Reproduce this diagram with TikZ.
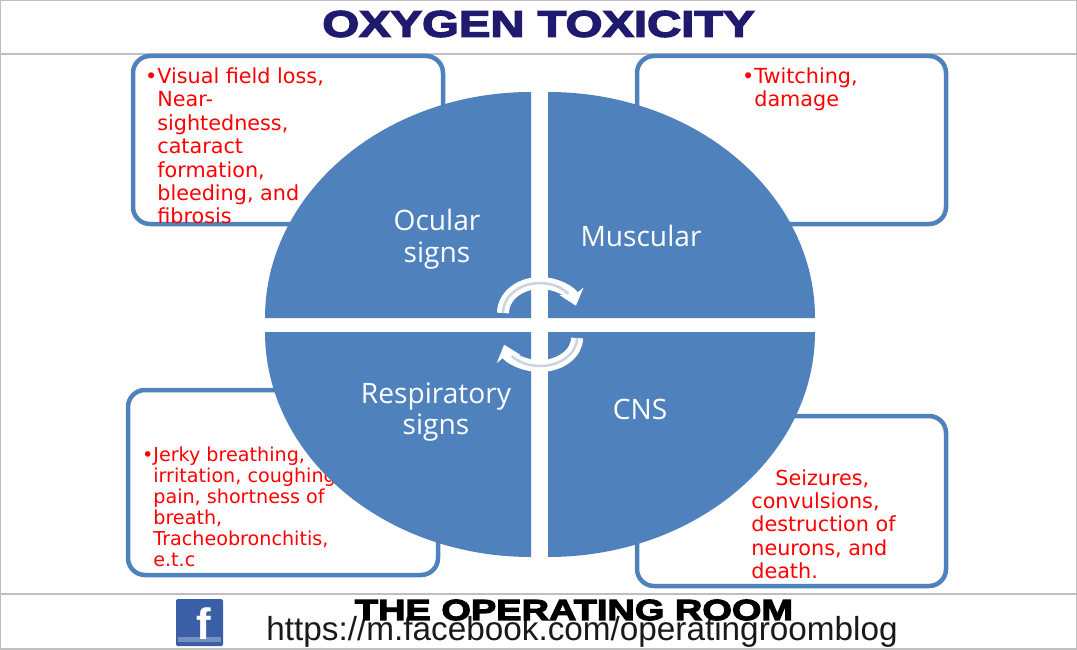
\documentclass[tikz,border=0pt]{standalone}
\usepackage{fontspec}
\setmainfont{DejaVu Sans}
\newfontfamily\labelfont{Open Sans}
\newfontfamily\urlfont{Liberation Sans}
\newfontfamily\heavyfont[FakeStretch=1.28,FakeBold=4]{Liberation Sans Bold}
\newfontfamily\footerfont[FakeStretch=1.31,FakeBold=4]{Liberation Sans Bold}
\usetikzlibrary{arrows.meta}
\definecolor{quadblue}{HTML}{4F81BD}
\definecolor{navytitle}{HTML}{1F1A6E}
\definecolor{fbblue}{HTML}{3A5FA6}
\definecolor{turngray}{HTML}{C9D3E6}
\tikzset{
  band/.style={draw=black!25,line width=.03cm},
  signbox/.style={draw=quadblue,line width=.09cm,rounded corners=.34cm,fill=white},
  quadrant/.style={fill=quadblue},
  signtext/.style={anchor=north west,align=left,text=red,inner sep=0pt,font=\fontsize{11.8}{13.3}\selectfont},
  quadlabel/.style={align=center,text=white,font=\labelfont\fontsize{16}{18}\selectfont},
  turnarrow/.style={draw=white,line width=.24cm,-{Stealth[length=.3cm,width=.5cm]}},
  turnline/.style={draw=turngray,line width=.05cm}
}
\begin{document}
\begin{tikzpicture}
        \useasboundingbox (0,0) rectangle (21.54,12.98);
        % bands
        \draw[band] (0,0) rectangle (21.54,12.98);
        \draw[band] (0,11.9) -- (21.54,11.9);
        \draw[band] (0,1.1) -- (21.54,1.1);
        \node[text=navytitle,font=\heavyfont\fontsize{21}{23}\selectfont] (title) at (10.77,12.5) {OXYGEN TOXICITY};
        % boxes
        \draw[signbox] ( 2.66,8.5) rectangle ( 8.86,11.86);
        \draw[signbox] (12.74,8.5) rectangle (18.92,11.86);
        \draw[signbox] ( 2.56,1.48) rectangle ( 8.76,5.18);
        \draw[signbox] (12.74,1.26) rectangle (18.92,4.66);
        % box texts
        \node[signtext] (oculartext) at (3.14,11.63) {\llap{•}Visual field loss,\\Near-\\sightedness,\\cataract\\formation,\\bleeding, and\\fibrosis};
        \node[signtext] (musculartext) at (15.08,11.63) {\llap{•}Twitching,\\damage};
        \node[signtext,font=\fontsize{10.9}{11.9}\selectfont] (respiratorytext) at (3.06,4.04) {\llap{•}Jerky breathing,\\irritation, coughing,\\pain, shortness of\\breath,\\Tracheobronchitis,\\e.t.c};
        \node[signtext] (cnstext) at (15.02,3.6) {\hspace*{.48cm}Seizures,\\convulsions,\\destruction of\\neurons, and\\death.};
        % quadrants
        \fill[quadrant] (10.62,6.62) -- (5.3,6.62) arc[start angle=180,end angle=90,x radius=5.32,y radius=4.52] -- cycle;
        \fill[quadrant] (10.96,6.62) -- (16.3,6.62) arc[start angle=0,end angle=90,x radius=5.34,y radius=4.52] -- cycle;
        \fill[quadrant] (10.62,6.34) -- (5.3,6.34) arc[start angle=180,end angle=270,x radius=5.32,y radius=4.5] -- cycle;
        \fill[quadrant] (10.96,6.34) -- (16.3,6.34) arc[start angle=360,end angle=270,x radius=5.34,y radius=4.5] -- cycle;
        \node[quadlabel] (ocular) at (8.74,8.19) {Ocular\\signs};
        \node[quadlabel] (muscular) at (12.82,8.26) {Muscular};
        \node[quadlabel] (respiratory) at (8.72,4.74) {Respiratory\\signs};
        \node[quadlabel] (cns) at (12.8,4.8) {CNS};
        % turning arrows
        \draw[turnarrow] (10.06,6.72) arc[start angle=180,end angle=14,x radius=.74,y radius=.6];
        \draw[turnarrow] (11.54,6.22) arc[start angle=0,end angle=-166,x radius=.74,y radius=.56];
        \draw[turnline] (10.06,6.72) arc[start angle=180,end angle=40,x radius=.74,y radius=.6];
        \draw[turnline] (11.54,6.22) arc[start angle=0,end angle=-140,x radius=.74,y radius=.56];
        % footer
        \fill[fbblue,rounded corners=.03cm] (3.52,.06) rectangle (4.46,1.0);
        \fill[white,opacity=.3] (3.56,.14) rectangle (4.42,.24);
        \node[text=white,inner sep=0pt,font=\urlfont\bfseries\fontsize{25}{25}\selectfont] (fbicon) at (4.08,.5) {f};
        \node[text=black!90,font=\urlfont\fontsize{18.95}{20}\selectfont] (fburl) at (11.64,.34) {https://m.facebook.com/operatingroomblog};
        \node[text=black,font=\footerfont\fontsize{16.5}{18}\selectfont] (footer) at (11.48,.78) {THE OPERATING ROOM};
      \end{tikzpicture}
\end{document}
